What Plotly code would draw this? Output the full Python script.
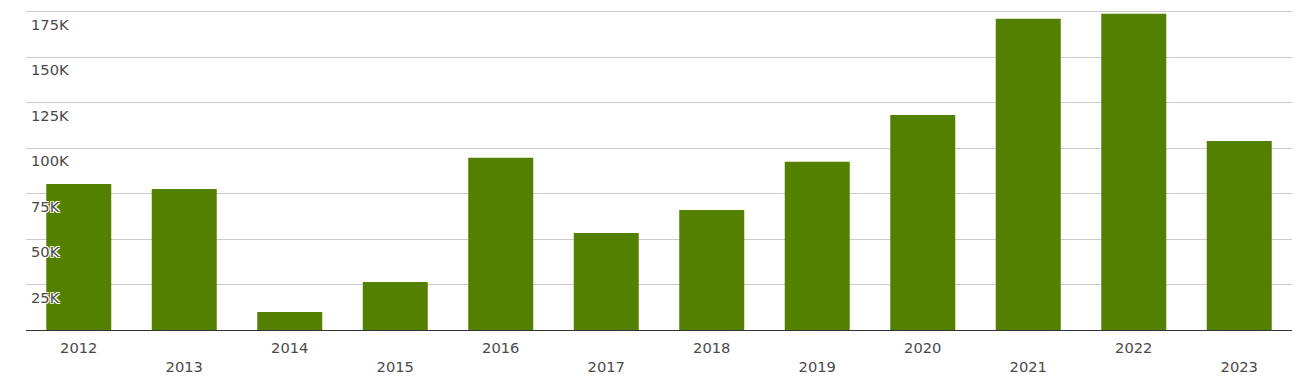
import plotly.graph_objects as go

years = ["2012", "2013", "2014", "2015", "2016", "2017", "2018", "2019", "2020", "2021", "2022", "2023"]
values = [80300, 77600, 9900, 26400, 94700, 53400, 66000, 92500, 118300, 171200, 173900, 104000]
y_tickvals = [25000, 50000, 75000, 100000, 125000, 150000, 175000]
y_ticktext = ["25K", "50K", "75K", "100K", "125K", "150K", "175K"]

# stagger x labels: odd positions go on a second line
x_ticktext = [y if i % 2 == 0 else "<br>" + y for i, y in enumerate(years)]

font_family = "DejaVu Sans, sans-serif"
text_color = "#4a4a4a"

fig = go.Figure(
    go.Bar(
        x=years,
        y=values,
        marker=dict(color="#548000", line=dict(width=0)),
        hoverinfo="skip",
    )
)

fig.update_layout(
    width=1293,
    height=384,
    margin=dict(l=26, r=1, t=10, b=54),
    plot_bgcolor="white",
    paper_bgcolor="white",
    bargap=0.384,
    showlegend=False,
    font=dict(family=font_family, size=14.7, color=text_color),
)

fig.update_xaxes(
    type="category",
    range=[-0.5, 11.5],
    autorange=False,
    tickmode="array",
    tickvals=years,
    ticktext=x_ticktext,
    showline=True,
    linecolor="#333333",
    linewidth=1,
    ticks="",
    showgrid=False,
    ticklabelstandoff=4,
    tickfont=dict(family=font_family, size=14.7, color=text_color),
)

fig.update_yaxes(
    range=[0, 176000],
    autorange=False,
    tickmode="array",
    tickvals=y_tickvals,
    ticktext=y_ticktext,
    showgrid=True,
    gridcolor="#cccccc",
    gridwidth=1,
    zeroline=False,
    showline=False,
    ticks="",
    ticklabelposition="inside",
    ticklabelshift=13,
    ticklabelstandoff=2,
    tickfont=dict(
        family=font_family,
        size=14.7,
        color=text_color,
        shadow="-1px -1px 0 #fff, 1px -1px 0 #fff, -1px 1px 0 #fff, 1px 1px 0 #fff",
    ),
)

fig.write_html("out.html")
